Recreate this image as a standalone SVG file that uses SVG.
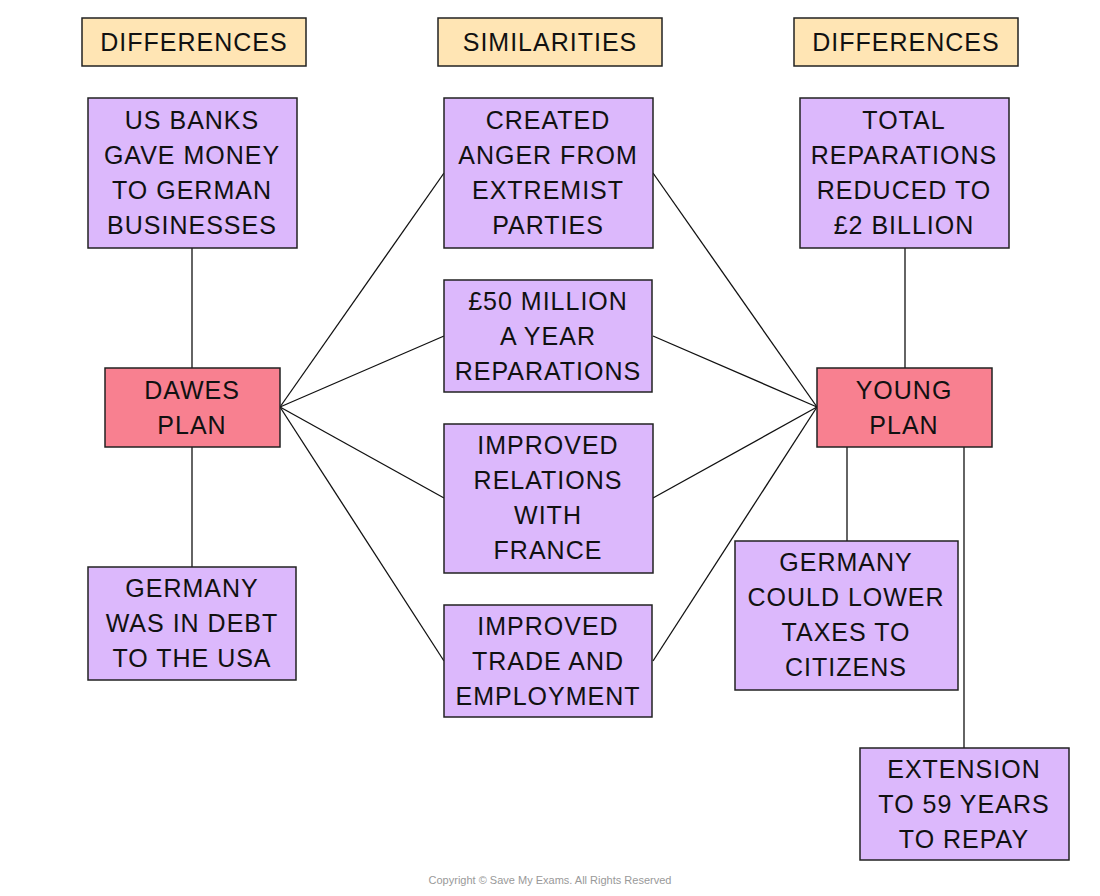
<svg xmlns="http://www.w3.org/2000/svg" width="1100" height="896" viewBox="0 0 1100 896">
<style>
rect{stroke:#222;stroke-width:1.5}
.h{fill:#ffe5b4}.p{fill:#dcb8fc}.r{fill:#f88090}
text{font-family:"Liberation Sans",Arial,sans-serif;font-size:25px;fill:#111;text-anchor:middle;letter-spacing:1px}
.c{font-size:11px;fill:#999;letter-spacing:0}
#connectors line{stroke:#111;stroke-width:1.3}
</style>
<rect width="1100" height="896" fill="#fff" style="stroke:none"/>
<g id="connectors">
<line x1="280" y1="407" x2="444" y2="173"/><line x1="280" y1="407" x2="444" y2="336"/>
<line x1="280" y1="407" x2="444" y2="498"/><line x1="280" y1="407" x2="444" y2="661"/>
<line x1="817" y1="407" x2="653" y2="173"/><line x1="817" y1="407" x2="653" y2="336"/>
<line x1="817" y1="407" x2="653" y2="498"/><line x1="817" y1="407" x2="653" y2="661"/>
<line x1="192" y1="248" x2="192" y2="368"/><line x1="192" y1="447" x2="192" y2="567"/>
<line x1="905" y1="248" x2="905" y2="368"/><line x1="847" y1="447" x2="847" y2="541"/>
<line x1="964" y1="447" x2="964" y2="748"/>
</g>
<g id="h1"><rect class="h" x="82" y="18" width="224" height="48"/><text x="194" y="51">DIFFERENCES</text></g>
<g id="h2"><rect class="h" x="438" y="18" width="224" height="48"/><text x="550" y="51">SIMILARITIES</text></g>
<g id="h3"><rect class="h" x="794" y="18" width="224" height="48"/><text x="906" y="51">DIFFERENCES</text></g>
<g id="usbanks"><rect class="p" x="88" y="98" width="209" height="150"/><text x="192" y="129">US BANKS</text><text x="192" y="164">GAVE MONEY</text><text x="192" y="199">TO GERMAN</text><text x="192" y="234">BUSINESSES</text></g>
<g id="dawes"><rect class="r" x="105" y="368" width="175" height="79"/><text x="192" y="399">DAWES</text><text x="192" y="434">PLAN</text></g>
<g id="debt"><rect class="p" x="88" y="567" width="208" height="113"/><text x="192" y="597">GERMANY</text><text x="192" y="632">WAS IN DEBT</text><text x="192" y="667">TO THE USA</text></g>
<g id="anger"><rect class="p" x="444" y="98" width="209" height="150"/><text x="548" y="129">CREATED</text><text x="548" y="164">ANGER FROM</text><text x="548" y="199">EXTREMIST</text><text x="548" y="234">PARTIES</text></g>
<g id="fifty"><rect class="p" x="444" y="280" width="208" height="112"/><text x="548" y="310">£50 MILLION</text><text x="548" y="345">A YEAR</text><text x="548" y="380">REPARATIONS</text></g>
<g id="france"><rect class="p" x="444" y="424" width="209" height="149"/><text x="548" y="454">IMPROVED</text><text x="548" y="489">RELATIONS</text><text x="548" y="524">WITH</text><text x="548" y="559">FRANCE</text></g>
<g id="trade"><rect class="p" x="444" y="605" width="208" height="112"/><text x="548" y="635">IMPROVED</text><text x="548" y="670">TRADE AND</text><text x="548" y="705">EMPLOYMENT</text></g>
<g id="total"><rect class="p" x="800" y="98" width="209" height="150"/><text x="904" y="129">TOTAL</text><text x="904" y="164">REPARATIONS</text><text x="904" y="199">REDUCED TO</text><text x="904" y="234">£2 BILLION</text></g>
<g id="young"><rect class="r" x="817" y="368" width="175" height="79"/><text x="904" y="399">YOUNG</text><text x="904" y="434">PLAN</text></g>
<g id="taxes"><rect class="p" x="735" y="541" width="223" height="149"/><text x="846" y="571">GERMANY</text><text x="846" y="606">COULD LOWER</text><text x="846" y="641">TAXES TO</text><text x="846" y="676">CITIZENS</text></g>
<g id="ext"><rect class="p" x="860" y="748" width="209" height="112"/><text x="964" y="778">EXTENSION</text><text x="964" y="813">TO 59 YEARS</text><text x="964" y="848">TO REPAY</text></g>
<text class="c" x="550" y="884">Copyright © Save My Exams. All Rights Reserved</text>
</svg>
